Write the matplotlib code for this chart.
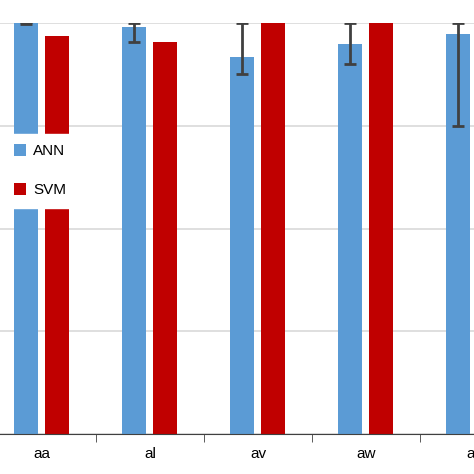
import matplotlib
matplotlib.use("Agg")
import matplotlib.pyplot as plt
import numpy as np

plt.rcParams['font.family'] = ['Liberation Sans', 'DejaVu Sans']

categories = ["aa", "al", "av", "aw", "ax"]
ann = [100.0, 99.0, 91.7, 94.9, 97.3]
svm = [96.8, 95.4, 100.0, 100.0, 100.0]
ann_err_low = [0.3, 3.6, 4.1, 4.9, 22.4]
ann_err_high = [0.3, 1.0, 8.3, 5.1, 2.7]

fig = plt.figure(figsize=(4.74, 4.74), dpi=100)
ax = fig.add_axes([0, 40/474, 1, (434-23)/474])
x = np.arange(len(categories))
w = 0.222
ax.bar(x - 0.145, ann, w, color="#5b9bd5", label="ANN", zorder=2)
ax.bar(x + 0.14, svm, w, color="#c00000", label="SVM", zorder=2)
ax.errorbar(x - 0.145, ann, yerr=[ann_err_low, ann_err_high], fmt="none",
            ecolor="#404040", elinewidth=2, capsize=4, capthick=2, zorder=3)
ax.set_xlim(-42/108, 432/108)
ax.set_ylim(0, 100)
ax.set_yticks([0, 25, 50, 75, 100])
ax.yaxis.grid(True, color="#d9d9d9", linewidth=1.2, zorder=0)
ax.set_axisbelow(True)
ax.tick_params(axis="y", left=False, labelleft=False)
for s in ["top", "right", "left"]:
    ax.spines[s].set_visible(False)
ax.spines["bottom"].set_color("#404040")
ax.set_xticks(x)
ax.set_xticklabels(categories, fontsize=11)
ax.set_xticks(x[:-1] + 0.5, minor=True)
ax.tick_params(axis="x", which="major", length=0, pad=9)
ax.tick_params(axis="x", which="minor", length=6, color="#404040")
leg = fig.legend(loc="upper left", bbox_to_anchor=(-0.01, (474-126)/474), frameon=True,
                 fontsize=11, handlelength=0.8, handleheight=0.8, labelspacing=1.6,
                 borderpad=0.7, handletextpad=0.5, fancybox=False)
leg.get_frame().set_edgecolor("white")
leg.get_frame().set_facecolor("white")
leg.get_frame().set_alpha(1)
fig.savefig("out.png", dpi=100)
